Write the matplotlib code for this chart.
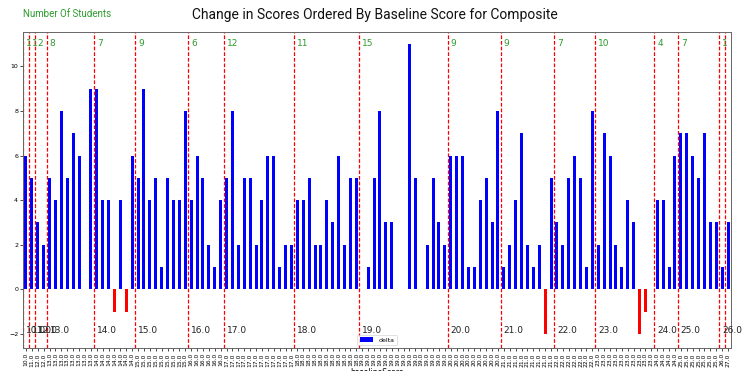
import matplotlib
matplotlib.use("Agg")
import matplotlib.pyplot as plt
import numpy as np

# ---- data ----
group_scores = [10.0, 11.0, 12.0, 13.0, 14.0, 15.0, 16.0, 17.0, 18.0, 19.0,
                20.0, 21.0, 22.0, 23.0, 24.0, 25.0, 26.0, 27.0]
group_counts = [1, 1, 2, 8, 7, 9, 6, 12, 11, 15, 9, 9, 7, 10, 4, 7, 1, 1]

delta = [
    6,
    5,
    3, 2,
    5, 4, 8, 5, 7, 6, 0, 9,
    9, 4, 4, -1, 4, -1, 6,
    5, 9, 4, 5, 1, 5, 4, 4, 8,
    4, 6, 5, 2, 1, 4,
    5, 8, 2, 5, 5, 2, 4, 6, 6, 1, 2, 2,
    4, 4, 5, 2, 2, 4, 3, 6, 2, 5, 5,
    0, 1, 5, 8, 3, 3, 0, 0, 11, 5, 0, 2, 5, 3, 2,
    6, 6, 6, 1, 1, 4, 5, 3, 8,
    1, 2, 4, 7, 2, 1, 2, -2, 5,
    3, 2, 5, 6, 5, 1, 8,
    2, 7, 6, 2, 1, 4, 3, -2, -1, 0,
    4, 4, 1, 6,
    7, 7, 6, 5, 7, 3, 3,
    1,
    3,
]

baseline = []
for s, c in zip(group_scores, group_counts):
    baseline += [s] * c

# ---- figure ----
W, H = 748, 371
fig = plt.figure(figsize=(W / 100, H / 100), dpi=100)
ax = fig.add_axes([23 / W, (H - 348.3) / H, 708 / W, (348.3 - 31.5) / H])

x = np.arange(len(delta))
colors = ['red' if d < 0 else 'blue' for d in delta]
bars = ax.bar(x, delta, width=0.5, color=colors, label='delta')

ax.set_xlim(-0.5, len(delta) - 0.5)
ax.set_ylim(-2.65, 11.57)

ax.set_xticks(x)
ax.set_xticklabels(["%.1f" % b for b in baseline], rotation=90, fontsize=4.3)
ax.set_yticks([-2, 0, 2, 4, 6, 8, 10])
ax.tick_params(axis='y', labelsize=4.5, length=2, width=0.5, pad=1.5)
ax.tick_params(axis='x', length=2, width=0.5, pad=1.5)
for sp in ax.spines.values():
    sp.set_linewidth(0.7)
    sp.set_color('#666666')

ax.set_xlabel('baselineScore', fontsize=5.5, labelpad=1)

start = 0
for gi, (s, c) in enumerate(zip(group_scores, group_counts)):
    ax.axvline(start - 0.5, color='red', linestyle='--', linewidth=0.9, dashes=(3, 1.5))
    if gi < len(group_scores) - 1:
        ax.text(start, 11.05, str(c), color='#2e9a2e', fontsize=6.5,
                ha='left', va='center')
        ax.text(start, -1.86, "%.1f" % s, color='#222222', fontsize=6.5,
                ha='left', va='center')
    start += c

leg = ax.legend(handles=[bars], labels=['delta'], loc='lower center',
                fontsize=4.5, handlelength=2.2, borderpad=0.4, labelspacing=0.2)
leg.get_frame().set_linewidth(0.5)

fig.text(375 / W, 1 - 15 / H, 'Change in Scores Ordered By Baseline Score for Composite',
         ha='center', va='center', fontsize=10, family='Roboto', color='#111111')
fig.text(23 / W, 1 - 14 / H, 'Number Of Students', ha='left', va='center',
         fontsize=7, family='Roboto', color='#2e9a2e')

fig.savefig('out.png', dpi=100)
